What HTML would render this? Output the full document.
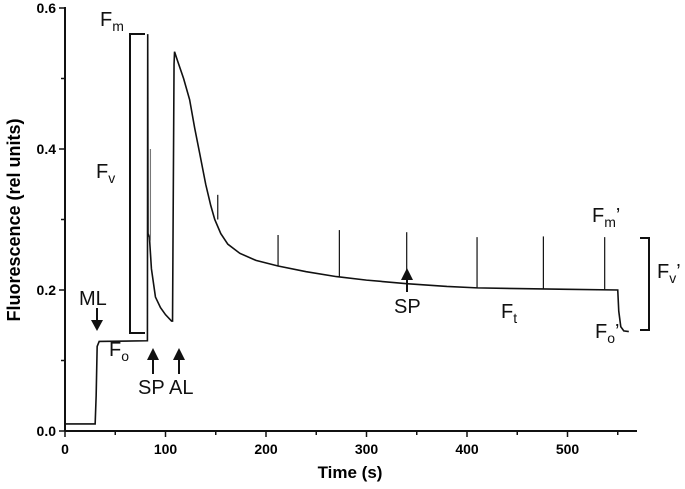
<!DOCTYPE html>
<html><head><meta charset="utf-8"><style>
body{margin:0;background:#fff;}
svg{display:block;font-family:"Liberation Sans",sans-serif;}
.lab{font-size:20px;fill:#111;}
.sub{font-size:14px;}
</style></head><body>
<svg id="chart" width="685" height="489">
<g id="axes"></g>
<g id="marks"></g>
<g stroke="#111" fill="none" stroke-width="2">
<path d="M145,34 H130 V333 H145"/>
<path d="M640,238 H649 V330 H640"/>
</g>
<g fill="#111">
<path d="M97,308 V322" stroke="#111" stroke-width="2"/><polygon points="91,320 103,320 97,331"/>
<path d="M153,358 V374" stroke="#111" stroke-width="2"/><polygon points="147,360 159,360 153,348"/>
<path d="M179,358 V374" stroke="#111" stroke-width="2"/><polygon points="173,360 185,360 179,348"/>
<path d="M407,278 V292" stroke="#111" stroke-width="2"/><polygon points="401,280 413,280 407,268"/>
</g>
<text class="lab" x="100" y="26">F<tspan class="sub" dy="5">m</tspan></text>
<text class="lab" x="96" y="178">F<tspan class="sub" dy="5">v</tspan></text>
<text class="lab" x="79" y="305">ML</text>
<text class="lab" x="109" y="356">F<tspan class="sub" dy="5">o</tspan></text>
<text class="lab" x="138" y="394">SP</text>
<text class="lab" x="169" y="394">AL</text>
<text class="lab" x="394" y="313">SP</text>
<text class="lab" x="501" y="318">F<tspan class="sub" dy="5">t</tspan></text>
<text class="lab" x="592" y="222">F<tspan class="sub" dy="5">m</tspan><tspan dy="-5">’</tspan></text>
<text class="lab" x="595" y="338">F<tspan class="sub" dy="5">o</tspan><tspan dy="-5">’</tspan></text>
<text class="lab" x="657" y="278">F<tspan class="sub" dy="5">v</tspan><tspan dy="-5">’</tspan></text>
<text x="350" y="478" text-anchor="middle" font-size="17" font-weight="bold">Time (s)</text>
<text transform="translate(20,220) rotate(-90)" text-anchor="middle" font-size="18" font-weight="bold">Fluorescence (rel units)</text>
</svg>
<script>
const times=[0,30,31,32,34,82,82.3,82.6,84,86,90,95,100,106,107,108.5,109,112,118,124,129,134,140,145,149,155,162,174,190,212,240,270,300,340,380,410,450,500,550,551,553,556,561];
const values=[0.01,0.01,0.05,0.12,0.127,0.128,0.563,0.28,0.275,0.23,0.19,0.175,0.165,0.156,0.156,0.52,0.538,0.525,0.5,0.47,0.43,0.394,0.35,0.32,0.30,0.28,0.265,0.252,0.242,0.234,0.226,0.219,0.214,0.209,0.205,0.203,0.202,0.201,0.2,0.17,0.148,0.142,0.141];
const spikeTimes=[85,152,212,273,340,410,476,537];
const spikeBase=[0.27,0.30,0.234,0.219,0.209,0.203,0.201,0.201];
const spikeTops=[0.40,0.335,0.278,0.285,0.282,0.275,0.276,0.275];
const xTicks=[0,100,200,300,400,500];
const yTicks=[0,0.2,0.4,0.6];
const X0=65,Y0=431;
const xs=t=>X0+t*1.005;
const ys=v=>Y0-v*705;
const NS='http://www.w3.org/2000/svg';
const ax=document.getElementById('axes');
const mk=document.getElementById('marks');
function el(tag,at,parent){const e=document.createElementNS(NS,tag);for(const k in at)e.setAttribute(k,at[k]);parent.appendChild(e);return e;}
const xl=el('line',{x1:X0,y1:Y0,x2:637,y2:Y0,stroke:'#111','stroke-width':2},ax);


const yl=el('line',{x1:X0,y1:Y0,x2:X0,y2:7,stroke:'#111','stroke-width':2},ax);


for(let t=0;t<=550;t+=50){el('line',{x1:xs(t),y1:Y0,x2:xs(t),y2:Y0+(t%100?4:6),stroke:'#111','stroke-width':1.5},ax);}
xTicks.forEach(t=>{const tx=el('text',{x:xs(t),y:454,'text-anchor':'middle','font-size':14,'font-weight':'bold'},ax);tx.textContent=t;

});
for(let v=0;v<=0.6001;v+=0.1){el('line',{x1:X0,y1:ys(v),x2:X0-(Math.round(v*10)%2?4:6),y2:ys(v),stroke:'#111','stroke-width':1.5},ax);}
yTicks.forEach(v=>{const tx=el('text',{x:56,y:ys(v)+5,'text-anchor':'end','font-size':14,'font-weight':'bold'},ax);tx.textContent=v.toFixed(1);

});
const p=el('polyline',{points:times.map((t,i)=>xs(t)+','+ys(values[i])).join(' '),fill:'none',stroke:'#111','stroke-width':1.6},mk);


spikeTimes.forEach((t,i)=>{const s=el('line',{x1:xs(t),y1:ys(spikeBase[i]),x2:xs(t),y2:ys(spikeTops[i]),stroke:i==0?'#777':'#111','stroke-width':1.2},mk);

});
</script>
</body></html>
